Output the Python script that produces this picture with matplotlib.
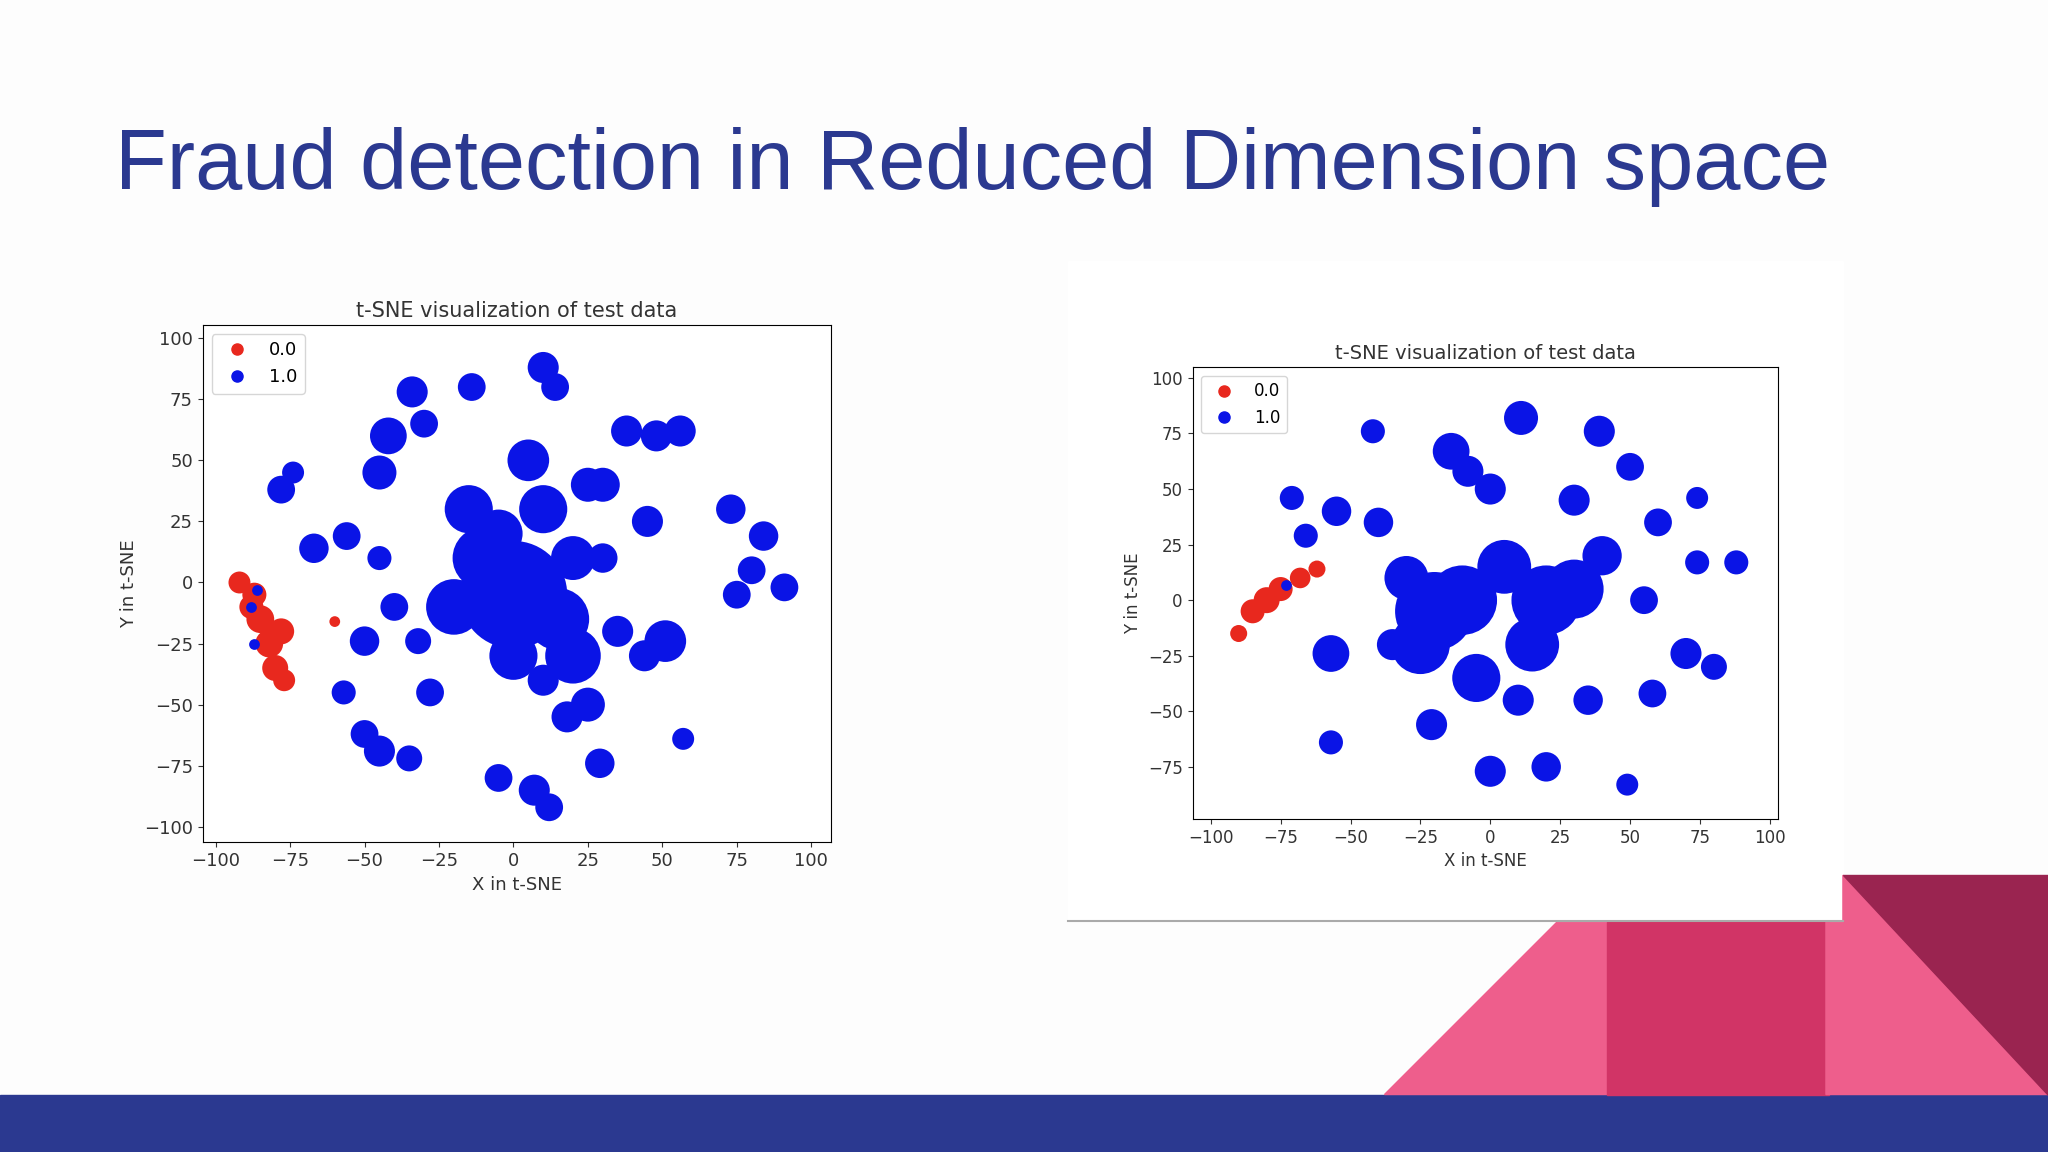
import matplotlib
matplotlib.use("Agg")
import matplotlib.pyplot as plt
from matplotlib.lines import Line2D
from matplotlib.patches import Polygon, Rectangle

# ---- data: cluster blobs (x, y, size) ----
L_blue_x = [0, -10, 15, 10, -15, 5, 10, 14, -14, -34, -30, -42, -45, 38, 48, 56, 30, 45, 30, 73, 84, 91, 80, 75, 51, 44, 35, 25, 10, 18, 29, 7, 12, -5, 57, -45, -50, -35, -57, -28, -50, -40, -32, -78, -74, -67, -56, -45, 20, -20, 0, -5, 20, 25]
L_blue_y = [-5, 10, -15, 30, 30, 50, 88, 80, 80, 78, 65, 60, 45, 62, 60, 62, 40, 25, 10, 30, 19, -2, 5, -5, -24, -30, -20, -50, -40, -55, -74, -85, -92, -80, -64, -69, -62, -72, -45, -45, -24, -10, -24, 38, 45, 14, 19, 10, -30, -10, -30, 20, 10, 40]
L_blue_s = [6000, 2000, 2000, 1200, 1200, 900, 500, 400, 400, 500, 400, 700, 600, 500, 500, 500, 600, 500, 450, 450, 450, 400, 400, 400, 900, 500, 500, 600, 500, 500, 450, 500, 400, 400, 250, 500, 400, 350, 300, 400, 450, 400, 350, 400, 250, 450, 400, 300, 1600, 1600, 1200, 1200, 1000, 600]
L_red_x = [-92, -88, -85, -82, -80, -77, -78, -87, -60]
L_red_y = [0, -10, -15, -25, -35, -40, -20, -5, -16]
L_red_s = [250, 300, 400, 400, 350, 250, 350, 300, 60]
L_dot_x = [-88, -87, -86]
L_dot_y = [-10, -25, -3]

R_blue_x = [-20, -10, -25, 20, 30, 15, 5, -5, -42, -14, -8, 0, 11, 39, 50, 30, 60, 74, -71, -55, -40, -66, 74, 88, 55, 70, 80, 58, 0, 20, 49, -57, -57, -35, -21, 35, 10, -30, 40]
R_blue_y = [-5, 0, -20, 0, 5, -20, 15, -35, 76, 67, 58, 50, 82, 76, 60, 45, 35, 46, 46, 40, 35, 29, 17, 17, 0, -24, -30, -42, -77, -75, -83, -64, -24, -20, -56, -45, -45, 10, 20]
R_blue_s = [3200, 2500, 1800, 2500, 1800, 1500, 1500, 1200, 300, 700, 500, 500, 600, 500, 400, 500, 400, 250, 300, 450, 450, 300, 300, 300, 400, 500, 350, 400, 500, 450, 250, 300, 700, 500, 500, 450, 500, 1000, 800]
R_red_x = [-90, -85, -80, -75, -68, -62]
R_red_y = [-15, -5, 0, 5, 10, 14]
R_red_s = [150, 300, 350, 300, 220, 150]
R_dot_x = [-73]
R_dot_y = [7]

RED = "#e8281e"
BLUE = "#0a14e6"
NAVY = "#2b3990"

fig = plt.figure(figsize=(20.48, 11.52), dpi=100)
fig.patch.set_facecolor("#fdfdfd")

fig.text(0.056, 0.855, "Fraud detection in Reduced Dimension space", fontsize=61,
         color=NAVY, va="center", ha="left", family="Liberation Sans")

# decorations
bg = fig.add_axes([0, 0, 1, 1], zorder=-5)
bg.set_xlim(0, 1568); bg.set_ylim(882, 0); bg.axis("off")
bg.add_patch(Rectangle((818, 200), 593, 505, color="white"))
bg.plot([818, 1411], [705, 705], color="#aaaaaa", lw=1.5)
bg.add_patch(Rectangle((0, 838), 1568, 44, color=NAVY))
bg.add_patch(Polygon([(1060, 838), (1192, 706), (1232, 706), (1232, 838)], color="#ee5e8c"))
bg.add_patch(Rectangle((1230, 706), 170, 132, color="#d13466"))
bg.add_patch(Polygon([(1398, 838), (1398, 706), (1411, 706), (1411, 670), (1568, 838)], color="#ee5e8c"))
bg.add_patch(Polygon([(1411, 670), (1568, 670), (1568, 838)], color="#9a2450"))

def panel(rect, bx, by, bs, rx, ry, rs, dx, dy, xlim, ylim, xt, yt, fs):
    ax = fig.add_axes(rect)
    ax.scatter(bx, by, s=bs, c=BLUE, lw=0)
    ax.scatter(rx, ry, s=rs, c=RED, lw=0)
    ax.scatter(dx, dy, s=60, c=BLUE, lw=0)
    ax.set_xlim(*xlim); ax.set_ylim(*ylim)
    ax.set_xticks(xt); ax.set_yticks(yt)
    ax.tick_params(labelsize=fs, colors="#333333")
    ax.set_title("t-SNE visualization of test data", fontsize=fs + 2, color="#333333")
    ax.set_xlabel("X in t-SNE", fontsize=fs, color="#333333")
    ax.set_ylabel("Y in t-SNE", fontsize=fs, color="#333333")
    h = [Line2D([], [], marker="o", ls="", color=RED, markersize=8, label="0.0"),
         Line2D([], [], marker="o", ls="", color=BLUE, markersize=8, label="1.0")]
    ax.legend(handles=h, loc="upper left", fontsize=fs)
    return ax

panel([0.0989, 0.2687, 0.3068, 0.449], L_blue_x, L_blue_y, L_blue_s, L_red_x, L_red_y, L_red_s,
      L_dot_x, L_dot_y, (-104.4, 106.6), (-106.4, 105.3),
      [-100, -75, -50, -25, 0, 25, 50, 75, 100], [-100, -75, -50, -25, 0, 25, 50, 75, 100], 13)
panel([0.5823, 0.289, 0.2857, 0.392], R_blue_x, R_blue_y, R_blue_s, R_red_x, R_red_y, R_red_s,
      R_dot_x, R_dot_y, (-106.5, 102.8), (-98.5, 104.7),
      [-100, -75, -50, -25, 0, 25, 50, 75, 100], [-75, -50, -25, 0, 25, 50, 75, 100], 12)

fig.savefig("out.png", dpi=100, facecolor=fig.get_facecolor())
